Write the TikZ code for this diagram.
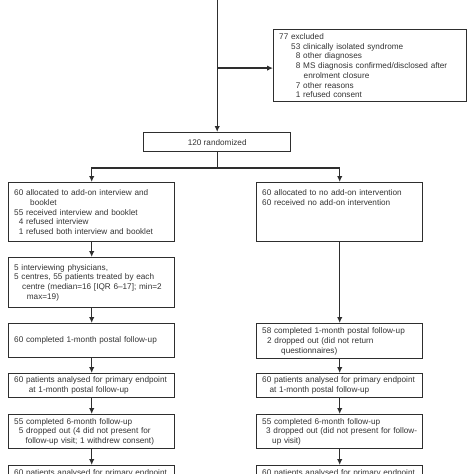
\documentclass[tikz,border=0pt]{standalone}
\usepackage{fontspec}
\setmainfont{Liberation Sans}
\usetikzlibrary{arrows.meta}
\definecolor{ln}{HTML}{2E2E2E}
\definecolor{tx}{HTML}{333333}
\begin{document}
\begin{tikzpicture}[x=1pt,y=-1pt,
  box/.style={draw=ln, line width=1.4pt, text=tx, anchor=north west, align=left,
    inner xsep=5.5pt, inner ysep=0pt, font=\fontsize{8.2}{9.7}\selectfont},
  colbox/.style={box, minimum width=166pt, text width=155pt},
  arr/.style={draw=ln, line width=1.3pt, -{Latex[length=6pt,width=5.5pt]}},
  plain/.style={draw=ln, line width=1.3pt}]
\useasboundingbox (0,0) rectangle (474,474);
\clip (0,0) rectangle (474,474);
% top
\node[box, minimum width=147pt, minimum height=19pt, align=center] (rand) at (143,132) {120 randomized};
\coordinate (top) at (rand.north |- 0,0);
\node[box, minimum width=193pt, text width=182pt, minimum height=72pt] (excl) at (273,29)
 {77 excluded\\
  \hspace*{12pt}53 clinically isolated syndrome\\
  \hspace*{16.7pt}8 other diagnoses\\
  \hspace*{16.7pt}8 MS diagnosis confirmed/disclosed after\\
  \hspace*{24.5pt}enrolment closure\\
  \hspace*{16.7pt}7 other reasons\\
  \hspace*{16.7pt}1 refused consent};
\coordinate (ex) at ([yshift=-2.4pt]excl.west);
\draw[arr] (top) -- (rand.north);
\draw[arr] (top |- ex) -- (ex);
% left column
\node[colbox, minimum height=59pt] (a1) at (8,182)
 {60 allocated to add-on interview and\\
  \hspace*{16pt}booklet\\
  55 received interview and booklet\\
  \hspace*{4.7pt}4 refused interview\\
  \hspace*{4.7pt}1 refused both interview and booklet};
\node[colbox, minimum height=50pt] (a2) at (8,257)
 {5 interviewing physicians,\\
  5 centres, 55 patients treated by each\\
  \hspace*{8pt}centre (median=16 [IQR 6--17]; min=2\\
  \hspace*{12.7pt}max=19)};
\node[colbox, minimum height=34pt] (a3) at (8,323)
 {60 completed 1-month postal follow-up};
\node[colbox, minimum height=24pt] (a4) at (8,373)
 {60 patients analysed for primary endpoint\\
  \hspace*{14.7pt}at 1-month postal follow-up};
\node[colbox, minimum height=34pt] (a5) at (8,414)
 {55 completed 6-month follow-up\\
  \hspace*{4.7pt}5 dropped out (4 did not present for\\
  \hspace*{11.3pt}follow-up visit; 1 withdrew consent)};
\node[colbox, minimum height=24pt] (a6) at (8,465)
 {60 patients analysed for primary endpoint\\ \mbox{}};
% right column
\node[colbox, minimum height=59pt] (b1) at (256,182)
 {60 allocated to no add-on intervention\\
  60 received no add-on intervention\\ \mbox{}\\ \mbox{}\\ \mbox{}};
\node[colbox, minimum height=35pt] (b3) at (256,323)
 {58 completed 1-month postal follow-up\\
  \hspace*{5pt}2 dropped out (did not return\\
  \hspace*{19pt}questionnaires)};
\node[colbox, minimum height=24pt] (b4) at (256,373)
 {60 patients analysed for primary endpoint\\
  \hspace*{7.3pt}at 1-month postal follow-up};
\node[colbox, minimum height=34pt] (b5) at (256,414)
 {55 completed 6-month follow-up\\
  \hspace*{4pt}3 dropped out (did not present for follow-\\
  \hspace*{10pt}up visit)};
\node[colbox, minimum height=24pt] (b6) at (256,465)
 {60 patients analysed for primary endpoint\\ \mbox{}};
% split
\coordinate (sp) at ([yshift=-15.7pt]rand.south);
\draw[plain] (rand.south) -- (sp);
\draw[arr] (sp) -| (a1.north);
\draw[arr] (sp) -| (b1.north);
% left arrows
\draw[arr] (a1) -- (a2);
\draw[arr] (a2) -- (a3);
\draw[arr] (a3) -- (a4);
\draw[arr] (a4) -- (a5);
\draw[arr] (a5) -- (a6);
% right arrows
\draw[arr] (b1) -- (b3);
\draw[arr] (b3) -- (b4);
\draw[arr] (b4) -- (b5);
\draw[arr] (b5) -- (b6);
\end{tikzpicture}
\end{document}
